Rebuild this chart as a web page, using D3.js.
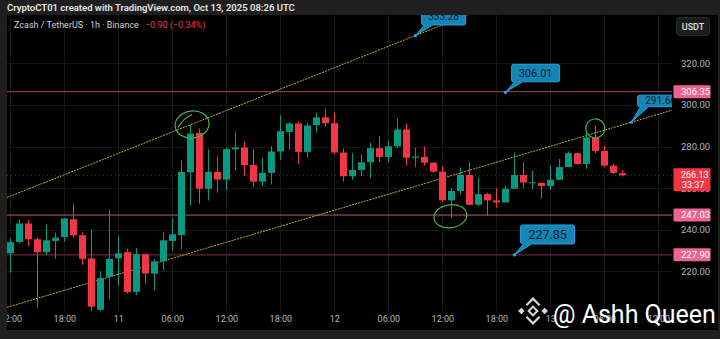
<!DOCTYPE html>
<html>
<head>
<meta charset="utf-8">
<script src="https://cdn.jsdelivr.net/npm/d3@7"></script>
<style>
  body { margin: 0; background: #000; }
  svg { display: block; font-family: Roboto, "Noto Sans", sans-serif; }
</style>
</head>
<body>
<script>
/*
*    ZEC/USDT 1h chart
*/

var width = 720;
var height = 339;
var plot = {left: 7, right: 672, top: 15, bottom: 311};

// hourly candles, Oct 10 12:00 UTC -> Oct 13 08:00 UTC
var open = [228.7, 234.1, 243.0, 235.4, 229.2, 234.6, 236.5, 245.0, 237.3, 226.2,
    201.5, 217.3, 226.3, 229.2, 210.1, 228.2, 218.9, 224.8, 234.6, 237.4,
    267.6, 286.5, 259.7, 267.8, 264.1, 278.6, 279.5, 271.1, 263.1, 267.3,
    277.6, 287.0, 291.1, 277.4, 290.3, 294.0, 291.2, 277.1, 265.7, 268.7,
    272.4, 279.2, 275.0, 280.1, 288.2, 274.6, 275.0, 272.2, 267.9, 254.1,
    258.6, 266.3, 252.0, 257.1, 254.1, 253.1, 259.7, 266.3, 262.4, 262.5,
    261.0, 264.0, 270.1, 276.8, 271.6, 284.3, 277.9, 270.8, 267.2];
var high = [235.9, 244.9, 244.6, 236.3, 242.5, 238.7, 245.6, 252.5, 238.7, 240.3,
    220.0, 249.7, 237.1, 230.8, 231.1, 228.5, 225.9, 239.0, 245.7, 273.6,
    290.6, 288.7, 278.7, 275.5, 279.6, 287.0, 282.2, 278.7, 274.4, 280.3,
    294.9, 291.9, 292.2, 291.4, 296.2, 298.2, 296.5, 279.0, 276.8, 276.3,
    281.9, 285.0, 282.7, 293.5, 291.0, 279.5, 280.0, 272.5, 270.6, 260.0,
    270.0, 272.4, 265.2, 257.8, 260.0, 261.0, 277.0, 272.4, 268.4, 262.6,
    270.8, 274.0, 277.6, 277.3, 286.7, 290.1, 280.3, 271.6, 268.6];
var low = [219.2, 233.5, 232.0, 202.5, 227.8, 226.0, 234.3, 236.2, 223.1, 198.0,
    199.0, 206.5, 213.1, 209.2, 208.6, 214.0, 210.8, 220.3, 229.8, 230.6,
    251.7, 252.5, 254.1, 257.8, 258.9, 268.4, 265.7, 260.5, 260.8, 261.7,
    273.6, 278.2, 271.6, 274.8, 286.7, 289.5, 276.3, 263.1, 264.0, 265.7,
    264.8, 272.4, 272.4, 279.2, 270.8, 270.0, 270.8, 267.3, 253.5, 245.9,
    256.8, 251.7, 251.4, 246.7, 250.6, 253.1, 259.7, 260.0, 259.3, 254.9,
    259.2, 263.8, 270.0, 271.1, 269.2, 276.8, 270.0, 266.8, 265.5];
var close = [234.0, 243.0, 235.4, 229.2, 234.9, 236.2, 245.4, 237.3, 226.0, 203.0,
    216.8, 226.0, 228.6, 210.0, 228.2, 218.9, 224.8, 234.9, 237.8, 267.8,
    286.2, 259.7, 267.8, 264.1, 278.7, 279.5, 271.1, 263.1, 267.3, 277.6,
    287.4, 291.1, 277.4, 290.1, 294.0, 291.2, 277.1, 265.7, 268.7, 272.4,
    279.2, 275.0, 280.1, 288.2, 274.6, 275.2, 272.2, 267.9, 254.1, 258.6,
    266.3, 252.0, 257.1, 254.1, 253.1, 259.7, 266.3, 262.7, 262.8, 261.0,
    264.0, 270.1, 276.8, 271.6, 284.3, 277.9, 270.8, 267.3, 266.13];

var yTicks = [320, 300, 280, 260, 240, 220];
var timeLabels = ["12:00", "18:00", "11", "06:00", "12:00", "18:00", "12",
    "06:00", "12:00", "18:00", "13", "06:00", "12:00"];

var levels = [306.35, 247.03, 227.90];
var lastPrice = 266.13;
var countdown = "33:37";

// trend lines, [hour index, price]
var upperTrend = [[15.5, 282.7], [45.0, 333.28]];
var lowerTrend = [[36.6, 250.1], [69.0, 291.66]];

// price callouts
var calloutHours = [45.0, 55.0, 69.0, 56.0];
var calloutPrices = [333.28, 306.01, 291.66, 227.85];

// hand drawn circles
var circleHours = [20.2, 48.9, 65.0];
var circlePrices = [290.6, 246.5, 288.7];

var t0 = Date.UTC(2025, 9, 10, 12);
var hr = h => new Date(t0 + h * 3600e3);

//Scales
var x = d3.scaleUtc()
    .domain([hr(0), hr(72)])
    .range([10.3, 658.3]);

var y = d3.scaleLinear()
    .domain([220, 320])
    .range([271.3, 63.3]);

var svg = d3.select("body")
    .append("svg")
        .attr("width", width)
        .attr("height", height);

svg.append("rect")
    .attr("width", width).attr("height", height)
    .attr("fill", "#000");

svg.append("clipPath").attr("id", "plotclip")
    .append("rect")
        .attr("x", plot.left).attr("y", plot.top)
        .attr("width", plot.right - plot.left)
        .attr("height", plot.bottom - plot.top);

var g = svg.append("g").attr("clip-path", "url(#plotclip)");

//Grid
var tickTimes = timeLabels.map((d, i) => hr(i * 6));
g.selectAll(".vgrid")
    .data(tickTimes)
    .enter().append("line")
        .attr("x1", d => Math.round(x(d)) + 0.5)
        .attr("x2", d => Math.round(x(d)) + 0.5)
        .attr("y1", plot.top).attr("y2", plot.bottom)
        .attr("stroke", "#161616");
g.selectAll(".hgrid")
    .data(yTicks)
    .enter().append("line")
        .attr("x1", plot.left).attr("x2", plot.right)
        .attr("y1", d => Math.round(y(d)) + 0.5)
        .attr("y2", d => Math.round(y(d)) + 0.5)
        .attr("stroke", "#161616");

//Horizontal levels
var levelStroke = ["#a8446a", "#b5577c", "#4a1a2a"];
var levelWidth = [1, 1, 2];
g.selectAll(".level")
    .data(levels)
    .enter().append("line")
        .attr("x1", plot.left).attr("x2", plot.right)
        .attr("y1", d => y(d)).attr("y2", d => y(d))
        .attr("stroke", (d, i) => levelStroke[i])
        .attr("stroke-width", (d, i) => levelWidth[i]);

//Trend lines
function extend(pts) {
    var h0 = (x.invert(plot.left) - t0) / 3600e3;
    var h1 = (x.invert(plot.right) - t0) / 3600e3;
    var slope = (pts[1][1] - pts[0][1]) / (pts[1][0] - pts[0][0]);
    return [h0, h1].map(h => [x(hr(h)), y(pts[0][1] + slope * (h - pts[0][0]))]);
}
[upperTrend, lowerTrend].forEach(pts => {
    g.append("path")
        .attr("d", d3.line()(extend(pts)))
        .attr("stroke", "#c4b02a")
        .attr("stroke-width", 1)
        .attr("stroke-dasharray", "2,1")
        .attr("fill", "none");
});

//Candles
var candles = open.map((o, i) => ({t: hr(i), o: o, h: high[i], l: low[i], c: close[i]}));
var up = "#089981", down = "#f23645";

var cg = g.selectAll(".candle")
    .data(candles)
    .enter().append("g");
cg.append("line")
    .attr("x1", d => Math.round(x(d.t)) + 0.5)
    .attr("x2", d => Math.round(x(d.t)) + 0.5)
    .attr("y1", d => y(d.h))
    .attr("y2", d => y(d.l))
    .attr("stroke", d => d.c >= d.o ? up : down);
cg.append("rect")
    .attr("x", d => Math.round(x(d.t)) - 3)
    .attr("width", 7)
    .attr("y", d => y(Math.max(d.o, d.c)))
    .attr("height", d => Math.max(1, Math.abs(y(d.o) - y(d.c))))
    .attr("fill", d => d.c >= d.o ? up : down);

//Last price dotted line
g.append("line")
    .attr("x1", plot.left).attr("x2", plot.right)
    .attr("y1", y(lastPrice)).attr("y2", y(lastPrice))
    .attr("stroke", "#f23645")
    .attr("stroke-opacity", 0.5)
    .attr("stroke-dasharray", "1,3");

//Hand drawn circles
var circleRx = [17, 16.5, 9.5], circleRy = [13.5, 11.5, 9.5];
g.selectAll(".ring")
    .data(circleHours)
    .enter().append("ellipse")
        .attr("cx", (d, i) => x(hr(d)))
        .attr("cy", (d, i) => y(circlePrices[i]))
        .attr("rx", (d, i) => circleRx[i])
        .attr("ry", (d, i) => circleRy[i])
        .attr("transform", (d, i) => "rotate(-8," + x(hr(d)) + "," + y(circlePrices[i]) + ")")
        .attr("fill", "none")
        .attr("stroke", "#4caf50")
        .attr("stroke-width", 1.2);
g.append("path")
    .attr("d", "M" + (x(hr(circleHours[0])) - 14) + "," + (y(circlePrices[0]) + 3)
        + " q6,-10 14,-13")
    .attr("fill", "none")
    .attr("stroke", "#4caf50")
    .attr("stroke-width", 1.2);

//Callouts
var boxW = [44, 48, 46, 54], boxH = [17, 17.5, 11.5, 19];
var boxDy = [10.7, 10.6, 15.6, 11], boxFont = [10, 11, 10, 12.5];
calloutHours.forEach((h, i) => {
    var ax = x(hr(h)), ay = y(calloutPrices[i]);
    var l = ax + 6.3, b = ay - boxDy[i], t = b - boxH[i], r = l + boxW[i], k = 2;
    var d = "M" + (l + k) + "," + t + "H" + (r - k) + "Q" + r + "," + t + " " + r + "," + (t + k)
        + "V" + (b - k) + "Q" + r + "," + b + " " + (r - k) + "," + b
        + "H" + (l + 11) + "L" + ax + "," + ay + "L" + (l + 3) + "," + b
        + "H" + (l + k) + "Q" + l + "," + b + " " + l + "," + (b - k)
        + "V" + (t + k) + "Q" + l + "," + t + " " + (l + k) + "," + t + "Z";
    g.append("path")
        .attr("d", d)
        .attr("fill", "#1585b5")
        .attr("stroke", "#27a4de")
        .attr("stroke-width", 1);
    g.append("circle")
        .attr("cx", ax).attr("cy", ay).attr("r", 1.6)
        .attr("fill", "#2aa8e6");
    g.append("text")
        .attr("x", (l + r) / 2)
        .attr("y", (t + b) / 2)
        .attr("dy", "0.36em")
        .attr("text-anchor", "middle")
        .attr("font-size", boxFont[i])
        .attr("fill", "#0a1c28")
        .text(calloutPrices[i].toFixed(2));
});

//Right axis
svg.append("rect")
    .attr("x", plot.right).attr("y", plot.top)
    .attr("width", width - plot.right).attr("height", height - plot.top)
    .attr("fill", "#000");

var rightAxis = d3.axisRight(y)
    .tickValues(yTicks)
    .tickSize(0)
    .tickPadding(9)
    .tickFormat(d3.format(".2f"));
svg.append("g")
    .attr("transform", "translate(" + plot.right + ",0)")
    .call(rightAxis)
    .call(a => a.select(".domain").remove())
    .selectAll("text")
        .attr("font-size", 9.5)
        .attr("font-family", "Roboto, sans-serif")
        .attr("fill", "#b2b5be");

//Time axis
var bottomAxis = d3.axisBottom(x)
    .tickValues(tickTimes)
    .tickSize(0)
    .tickPadding(5)
    .tickFormat((d, i) => timeLabels[i]);
svg.append("g")
    .attr("transform", "translate(0," + plot.bottom + ")")
    .call(bottomAxis)
    .call(a => a.select(".domain").remove())
    .selectAll("text")
        .attr("font-size", 9)
        .attr("font-family", "Roboto, sans-serif")
        .attr("fill", "#b2b5be");

//Level price tags
var tags = svg.append("g");
levels.forEach(v => {
    tags.append("rect")
        .attr("x", plot.right + 1.5).attr("y", y(v) - 6.5)
        .attr("width", 37).attr("height", 13).attr("rx", 1)
        .attr("fill", "#f06292");
    tags.append("text")
        .attr("x", 681).attr("y", y(v)).attr("dy", "0.35em")
        .attr("font-size", 9.5).attr("fill", "#fff")
        .text(v.toFixed(2));
});
tags.append("rect")
    .attr("x", plot.right + 1.5).attr("y", y(lastPrice) - 7)
    .attr("width", 37).attr("height", 23).attr("rx", 1)
    .attr("fill", "#f23645");
tags.append("text")
    .attr("x", 681).attr("y", y(lastPrice) - 0.5).attr("dy", "0.35em")
    .attr("font-size", 9).attr("fill", "#fff")
    .text(lastPrice.toFixed(2));
tags.append("text")
    .attr("x", 682).attr("y", y(lastPrice) + 10).attr("dy", "0.35em")
    .attr("font-size", 9).attr("fill", "#fff")
    .text(countdown);

// USDT button
svg.append("rect")
    .attr("x", 676.5).attr("y", 17.5).attr("width", 33).attr("height", 18).attr("rx", 3)
    .attr("fill", "#1c1c1c").attr("stroke", "#2a2a2a");
svg.append("text")
    .attr("x", 693).attr("y", 26.5).attr("dy", "0.35em")
    .attr("text-anchor", "middle")
    .attr("font-size", 9).attr("font-weight", 500).attr("fill", "#e0e0e0")
    .text("USDT");

//Frame
svg.append("rect").attr("x", 0).attr("y", 0).attr("width", width).attr("height", 15).attr("fill", "#1f1f1f");
svg.append("rect").attr("x", 0).attr("y", 0).attr("width", 7).attr("height", height).attr("fill", "#1f1f1f");
svg.append("rect").attr("x", 0).attr("y", 330).attr("width", width).attr("height", 9).attr("fill", "#1f1f1f");
svg.append("rect").attr("x", 718).attr("y", 0).attr("width", 2).attr("height", height).attr("fill", "#1f1f1f");

svg.append("text")
    .attr("x", 7).attr("y", 10.5)
    .attr("font-size", 9.5).attr("font-weight", 600).attr("fill", "#e8e8e8")
    .text("CryptoCT01 created with TradingView.com, Oct 13, 2025 08:26 UTC");

//Legend
var legend = svg.append("text")
    .attr("x", 14).attr("y", 28)
    .attr("font-size", 9).attr("fill", "#d1d4dc");
legend.append("tspan").text("Zcash / TetherUS · 1h · Binance");
legend.append("tspan").attr("dx", 6).attr("fill", "#f23645").text("−0.90 (−0.34%)");

//Watermark
var wm = svg.append("g").attr("transform", "translate(533,311)").attr("fill", "#d8d8d8");
var s = 2.2;
wm.append("path")
    .attr("d", "M" + (-3 * s) + "," + (-2.6 * s) + " L0," + (-5.6 * s) + " L" + (3 * s) + "," + (-2.6 * s))
    .attr("fill", "none").attr("stroke", "#d8d8d8").attr("stroke-width", 2.2);
wm.append("path")
    .attr("d", "M" + (-3 * s) + "," + (2.6 * s) + " L0," + (5.6 * s) + " L" + (3 * s) + "," + (2.6 * s))
    .attr("fill", "none").attr("stroke", "#d8d8d8").attr("stroke-width", 2.2);
[[-5.3, 0], [5.3, 0]].forEach(p => {
    wm.append("path")
        .attr("d", "M" + (p[0] * s) + "," + (-1.5 * s) + " l" + (1.5 * s) + "," + (1.5 * s)
            + " l" + (-1.5 * s) + "," + (1.5 * s) + " l" + (-1.5 * s) + "," + (-1.5 * s) + "Z");
});
wm.append("path")
    .attr("d", "M0," + (-2 * s) + " L" + (2 * s) + ",0 L0," + (2 * s) + " L" + (-2 * s) + ",0Z")
    .attr("fill", "none").attr("stroke", "#d8d8d8").attr("stroke-width", 2);

svg.append("text")
    .attr("x", 553).attr("y", 323)
    .attr("font-size", 25).attr("fill", "#ffffff")
    .text("@ Ashh Queen");
</script>
</body>
</html>
